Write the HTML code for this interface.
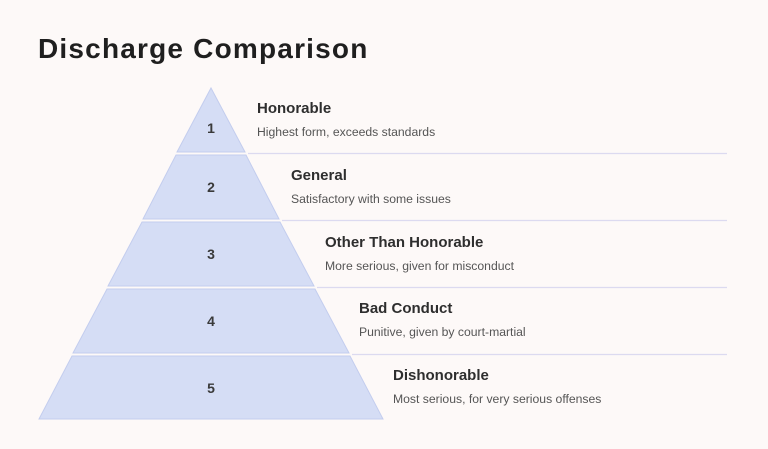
<!DOCTYPE html>
<html><head><style>
body{margin:0;background:#fdf9f8;}
svg{display:block}
text{font-family:"Liberation Sans",sans-serif}
</style></head><body>
<svg width="768" height="449" viewBox="0 0 768 449">
<rect width="768" height="449" fill="#fdf9f8"/>
<text x="38" y="58" font-size="28" font-weight="bold" fill="#1f1f1f" letter-spacing="1.2">Discharge Comparison</text>
<g fill="#d5ddf5" stroke="#c3cdee" stroke-width="1">
<polygon points="211,88 245,152 177,152"/>
<polygon points="176,155 246,155 279,219 143,219"/>
<polygon points="142,222 280,222 314,286 108,286"/>
<polygon points="107,289 315,289 349,353 73,353"/>
<polygon points="72,356 350,356 383,419 39,419"/>
</g>
<g stroke="#dcdaf0" stroke-width="1.3">
<line x1="248" y1="153.5" x2="727" y2="153.5"/>
<line x1="282" y1="220.5" x2="727" y2="220.5"/>
<line x1="317" y1="287.5" x2="727" y2="287.5"/>
<line x1="352" y1="354.5" x2="727" y2="354.5"/>
</g>
<g font-size="14" font-weight="bold" fill="#3a3a3a" text-anchor="middle">
<text x="211" y="133">1</text><text x="211" y="192">2</text><text x="211" y="259">3</text><text x="211" y="326">4</text><text x="211" y="393">5</text>
</g>
<g font-size="15" font-weight="bold" fill="#2e2e2e">
<text x="257" y="113">Honorable</text>
<text x="291" y="180">General</text>
<text x="325" y="247">Other Than Honorable</text>
<text x="359" y="313">Bad Conduct</text>
<text x="393" y="380">Dishonorable</text>
</g>
<g font-size="12.2" fill="#555">
<text x="257" y="136">Highest form, exceeds standards</text>
<text x="291" y="203">Satisfactory with some issues</text>
<text x="325" y="270">More serious, given for misconduct</text>
<text x="359" y="336">Punitive, given by court-martial</text>
<text x="393" y="403">Most serious, for very serious offenses</text>
</g>
</svg>
</body></html>
